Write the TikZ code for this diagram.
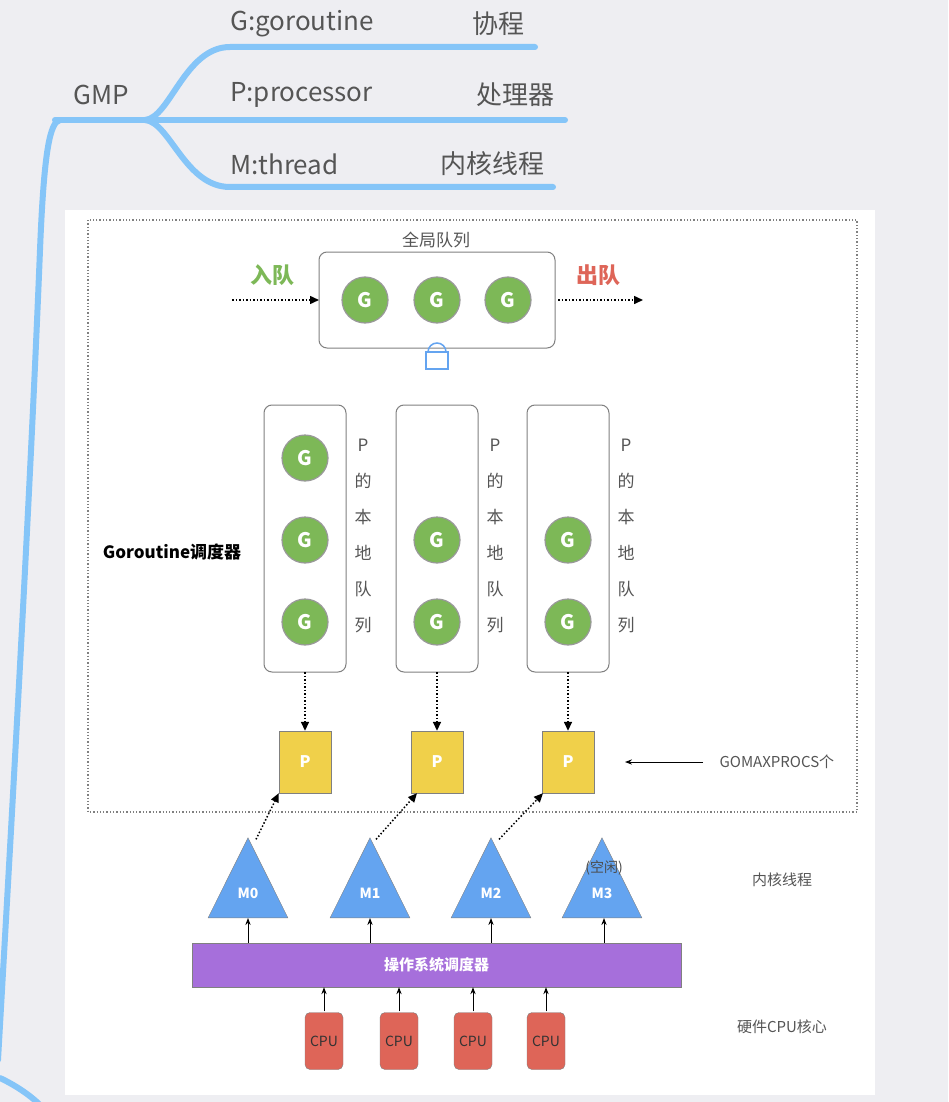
\documentclass[tikz,border=0pt]{standalone}
\usepackage{fontspec}
\setmainfont{Noto Sans CJK SC}
\usetikzlibrary{arrows.meta,shapes.geometric}
\definecolor{bg}{HTML}{EEEEF2}
\definecolor{branch}{HTML}{85C5F8}
\definecolor{gg}{HTML}{7DB857}
\definecolor{pp}{HTML}{F0D04A}
\definecolor{mm}{HTML}{64A4F0}
\definecolor{os}{HTML}{A66FDB}
\definecolor{cpu}{HTML}{DE6558}
\definecolor{tx}{HTML}{555555}
\begin{document}
\begin{tikzpicture}[x=1pt,y=-1pt,
  br/.style={branch,line width=6pt,line cap=round},
  lbl/.style={text=tx,font=\fontsize{26}{28}\selectfont,inner sep=0},
  gn/.style={circle,fill=gg,draw=gray!80,line width=1.2pt,minimum size=46pt,inner sep=0,text=white,font=\fontsize{20}{20}\selectfont\bfseries},
  box/.style={draw=gray,rounded corners=8pt,line width=1pt},
  pn/.style={rectangle,fill=pp,draw=gray,minimum width=52pt,minimum height=62pt,text=white,font=\fontsize{16}{16}\selectfont\bfseries},
  mn/.style={isosceles triangle,shape border rotate=90,isosceles triangle apex angle=53,fill=mm,draw=gray,minimum height=80pt,inner sep=0,anchor=south},
  cn/.style={rectangle,rounded corners=5pt,fill=cpu,draw=gray,minimum width=38pt,minimum height=57pt,inner sep=0,text=black!80,font=\fontsize{14}{14}\selectfont},
  dt/.style={dotted,line width=1.5pt,-{Triangle[length=9pt,width=8pt]}},
  ar/.style={line width=1pt,-{Stealth[length=7pt]}},
  sm/.style={text=tx,font=\fontsize{17}{17}\selectfont}]
\useasboundingbox (0,0) rectangle (948,1102);
\fill[bg] (0,0) rectangle (948,1102);
% mind map
\draw[br] (55,120) -- (565,120);
\draw[br] (145,120) .. controls (170,118) and (185,47) .. (230,47) -- (535,47);
\draw[br] (145,120) .. controls (170,122) and (185,187) .. (230,187) -- (553,187);
\draw[br] (60,120) .. controls (50,122) and (44,150) .. (40,250) .. controls (30,500) and (10,850) .. (-2,1060);
\draw[br] (0,1078) .. controls (15,1085) and (30,1095) .. (40,1105);
\node[lbl] (gmp) at (101,95) {GMP};
\node[lbl,anchor=west] (g1) at (230,24) {G:goroutine};
\node[lbl,anchor=east] (g2) at (525,24) {协程};
\node[lbl,anchor=west] (p1) at (230,95) {P:processor};
\node[lbl,anchor=east] (p2) at (555,95) {处理器};
\node[lbl,anchor=west] (m1) at (230,164) {M:thread};
\node[lbl,anchor=east] (m2) at (545,164) {内核线程};
% panel
\fill[white] (65,210) rectangle (875,1095);
\draw[gray,dotted,line width=1.3pt] (88,220) rectangle (857,812);
% global queue
\node[sm] (gt) at (436,240) {全局队列};
\draw[box] (319,252) rectangle (555,348);
\node[gn] (q1) at (365,300) {G};
\node[gn] (q2) at (437,300) {G};
\node[gn] (q3) at (508,300) {G};
\draw[mm,line width=1.5pt] (428,352) arc (180:360:9);
\draw[mm,line width=1.5pt] (426,352) rectangle (448,369);
\node[text=gg,font=\fontsize{22}{22}\selectfont\bfseries] (in) at (272,275) {入队};
\node[text=cpu,font=\fontsize{22}{22}\selectfont\bfseries] (out) at (598,275) {出队};
\coordinate (ia) at (232,300); \coordinate (ib) at (319,300);
\coordinate (oa) at (558,300); \coordinate (ob) at (643,300);
\draw[dt] (ia) -- (ib);
\draw[dt] (oa) -- (ob);
% local queues
\foreach \i/\x in {1/305,2/437,3/568}{
  \draw[box] (\x-41,405) rectangle (\x+41,672);
  \coordinate (lb\i) at (\x,672);
  \node[pn] (P\i) at (\x,762) {P};
  \draw[dt] (lb\i) -- (P\i.north);
  \foreach \c [count=\k] in {P,的,本,地,队,列}
    \node[sm] at (\x+58,409+36*\k) {\c};
}
\node[gn] at (305,458) {G};
\node[gn] at (305,540) {G};
\node[gn] at (305,622) {G};
\node[gn] at (437,540) {G};
\node[gn] at (437,622) {G};
\node[gn] at (568,540) {G};
\node[gn] at (568,622) {G};
\node[font=\fontsize{17}{17}\selectfont\bfseries] (gs) at (172,552) {Goroutine调度器};
\node[font=\fontsize{15}{15}\selectfont,anchor=west,text=tx] (gmx) at (716,762) {GOMAXPROCS个};
\coordinate (ga) at (703,762);
\draw[ar] (ga) -- (P3.east -| 625,0);
% M
\foreach \i/\x in {0/248,1/370,2/491,3/602}{
  \node[mn] (M\i) at (\x,918) {};
  \node[text=white,font=\fontsize{14}{14}\selectfont\bfseries] at (\x,893) {M\i};
}
\node[font=\fontsize{14}{14}\selectfont,text=black!70] (idle) at (604,868) {(空闲)};
\node[sm,font=\fontsize{15}{15}\selectfont] (kt) at (782,880) {内核线程};
\draw[dt] ([shift={(8,2)}]M0.apex) -- (P1.south west);
\draw[dt] ([shift={(6,2)}]M1.apex) -- ([xshift=-20pt]P2.south);
\draw[dt] ([shift={(8,2)}]M2.apex) -- ([xshift=-25pt]P3.south);
% OS
\node[fill=os,draw=gray,minimum width=489pt,minimum height=44pt,text=white,font=\fontsize{15}{15}\selectfont\bfseries] (os) at (436.5,965) {操作系统调度器};
\foreach \i/\x in {0/248,1/370,2/491,3/604}
  \draw[ar] (os.north -| \x,0) -- (M\i.south -| \x,0);
\foreach \i/\x in {1/324,2/399,3/473,4/546}{
  \node[cn] (C\i) at (\x,1041) {CPU};
  \draw[ar] (C\i.north) ++(0,-1) -- (os.south -| \x,0);
}
\node[sm,font=\fontsize{15}{15}\selectfont] (hw) at (782,1027) {硬件CPU核心};
\end{tikzpicture}
\end{document}
